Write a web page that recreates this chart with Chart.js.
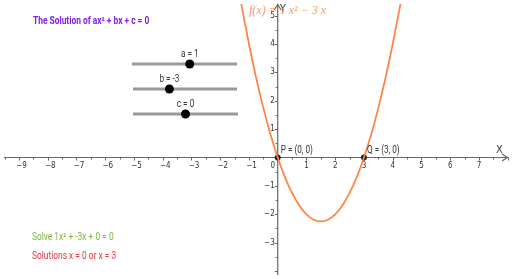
<!DOCTYPE html>
<html>
<head>
<meta charset="utf-8">
<script src="https://cdn.jsdelivr.net/npm/chart.js@4/dist/chart.umd.min.js"></script>
<style>
  html, body { margin: 0; padding: 0; background: #fff; overflow: hidden; }
  #wrap { position: relative; width: 512px; height: 279px; }
  canvas { display: block; }
</style>
</head>
<body>
<div id="wrap"><canvas id="c" width="512" height="279"></canvas></div>
<script>
// ---- data ----
const curveX = [-1.5, -1.25, -1, -0.75, -0.5, -0.25, 0, 0.25, 0.5, 0.75, 1, 1.25, 1.5, 1.75, 2, 2.25, 2.5, 2.75, 3, 3.25, 3.5, 3.75, 4, 4.25, 4.5];
const curveY = [6.75, 5.31, 4, 2.81, 1.75, 0.81, 0, -0.69, -1.25, -1.69, -2, -2.19, -2.25, -2.19, -2, -1.69, -1.25, -0.69, 0, 0.81, 1.75, 2.81, 4, 5.31, 6.75];
const pointNames = ["P", "Q"];
const pointX = [0, 3];
const pointY = [0, 0];
const xTickValues = [-9, -8, -7, -6, -5, -4, -3, -2, -1, 0, 1, 2, 3, 4, 5, 6, 7];
const yTickValues = [-3, -2, -1, 1, 2, 3, 4, 5];
const sliderNames = ["a", "b", "c"];
const sliderValues = [1, -3, 0];
const sliderMin = -10;
const sliderMax = 10;
const titleText = "The Solution of ax\u00B2 + bx + c = 0";
const solveText = "Solve 1x\u00B2 + -3x + 0 = 0";
const solutionText = "Solutions x = 0 or x = 3";
const functionLabel = "f(x) = 1 x\u00B2 \u2212 3 x";

const minus = v => (v < 0 ? "\u2212" + Math.abs(v) : String(v));

function narrowText(ctx, text, x, y, font, color, align, sx) {
  ctx.save();
  ctx.font = font;
  ctx.fillStyle = color;
  ctx.textBaseline = "middle";
  ctx.textAlign = align;
  ctx.translate(x, y);
  ctx.scale(sx, 1);
  ctx.fillText(text, 0, 0);
  ctx.restore();
}

const overlay = {
  id: "geoOverlay",
  beforeDatasetsDraw(chart) {
    const ctx = chart.ctx;
    const xs = chart.scales.x, ys = chart.scales.y;
    const x0 = xs.getPixelForValue(0), y0 = ys.getPixelForValue(0);
    const L = chart.chartArea.left, R = chart.chartArea.right, T = chart.chartArea.top, B = chart.chartArea.bottom;
    ctx.save();
    ctx.strokeStyle = "#666";
    ctx.lineWidth = 1.2;
    // x axis
    ctx.beginPath(); ctx.moveTo(L, y0); ctx.lineTo(R, y0); ctx.stroke();
    ctx.beginPath(); ctx.moveTo(R - 6, y0 - 3.5); ctx.lineTo(R - 0.5, y0); ctx.lineTo(R - 6, y0 + 3.5); ctx.stroke();
    // y axis
    ctx.beginPath(); ctx.moveTo(x0, B); ctx.lineTo(x0, T); ctx.stroke();
    ctx.beginPath(); ctx.moveTo(x0 - 3.5, T + 6); ctx.lineTo(x0, T + 0.5); ctx.lineTo(x0 + 3.5, T + 6); ctx.stroke();
    // ticks
    ctx.lineWidth = 1;
    for (let v = Math.ceil(xs.min * 2) / 2; v <= xs.max; v += 0.5) {
      if (v === 0) continue;
      const px = Math.round(xs.getPixelForValue(v)) + 0.5;
      const len = Number.isInteger(v) ? 3 : 2;
      ctx.beginPath(); ctx.moveTo(px, y0); ctx.lineTo(px, y0 + len); ctx.stroke();
    }
    for (let v = Math.ceil(ys.min * 2) / 2; v <= ys.max; v += 0.5) {
      if (v === 0) continue;
      const py = Math.round(ys.getPixelForValue(v)) + 0.5;
      const len = Number.isInteger(v) ? 3 : 2;
      ctx.beginPath(); ctx.moveTo(x0, py); ctx.lineTo(x0 - len, py); ctx.stroke();
    }
    ctx.restore();
    // tick labels
    const tf = "8px 'DejaVu Sans'";
    xTickValues.forEach(v => {
      let px = xs.getPixelForValue(v);
      if (v < 0) px += 2.5;
      if (v === 0) px -= 5;
      narrowText(ctx, minus(v), px, y0 + 8, tf, "#333", "center", 0.9);
    });
    yTickValues.forEach(v => {
      narrowText(ctx, minus(v), x0 - 3, ys.getPixelForValue(v), tf, "#333", "right", 0.9);
    });
    // axis names
    narrowText(ctx, "X", R - 12, y0 - 7, "11px 'DejaVu Sans'", "#333", "left", 0.9);
    narrowText(ctx, "Y", x0 + 2, T + 5, "11px 'DejaVu Sans'", "#333", "left", 0.9);
  },
  afterDraw(chart) {
    const ctx = chart.ctx;
    const xs = chart.scales.x, ys = chart.scales.y;
    // point labels
    pointNames.forEach((n, i) => {
      const px = xs.getPixelForValue(pointX[i]);
      const py = ys.getPixelForValue(pointY[i]);
      narrowText(ctx, n + " = (" + pointX[i] + ", " + pointY[i] + ")", px + 3, py - 7, "10px Roboto", "#333", "left", 0.82);
    });
    // sliders
    const trackL = 132, trackR = 237, trackTop = 64, trackGap = 25;
    sliderNames.forEach((n, i) => {
      const y = trackTop + i * trackGap;
      const l = trackL + (i > 0 ? 1 : 0);
      const r = trackR + (i === 2 ? 1 : 0);
      ctx.save();
      ctx.strokeStyle = "#999";
      ctx.lineWidth = 3;
      ctx.beginPath(); ctx.moveTo(l, y); ctx.lineTo(r, y); ctx.stroke();
      const hx = l + (sliderValues[i] - sliderMin) / (sliderMax - sliderMin) * (r - l);
      ctx.fillStyle = "#000";
      ctx.beginPath(); ctx.arc(hx, y, 4.5, 0, Math.PI * 2); ctx.fill();
      ctx.restore();
      narrowText(ctx, n + " = " + sliderValues[i], hx, y - 10, "10px Roboto", "#333", "center", 0.82);
    });
    // texts
    narrowText(ctx, titleText, 33, 21.5, "bold 10.5px Roboto", "#8020e6", "left", 0.8);
    narrowText(ctx, solveText, 32, 237.5, "10.5px Roboto", "#80b43c", "left", 0.8);
    narrowText(ctx, solutionText, 32, 256.5, "10.5px Roboto", "#e8323c", "left", 0.8);
    // function label
    narrowText(ctx, functionLabel, 249, 11, "italic 12px 'Liberation Serif'", "rgba(255,128,64,0.8)", "left", 1);
  }
};

new Chart(document.getElementById("c"), {
  type: "scatter",
  data: {
    datasets: [
      {
        label: "f(x)",
        data: curveX.map((x, i) => ({ x: x, y: curveY[i] })),
        showLine: true,
        borderColor: "#ff8040",
        borderWidth: 1.7,
        pointRadius: 0,
        cubicInterpolationMode: "monotone",
        fill: false
      },
      {
        label: "roots",
        data: pointX.map((x, i) => ({ x: x, y: pointY[i] })),
        showLine: false,
        pointRadius: 3,
        pointBackgroundColor: "#222",
        pointBorderColor: "#222",
        pointBorderWidth: 0
      }
    ]
  },
  options: {
    responsive: false,
    animation: false,
    devicePixelRatio: 1,
    layout: { padding: 0 },
    plugins: { legend: { display: false }, tooltip: { enabled: false } },
    scales: {
      x: { type: "linear", min: -9.52, max: 8.01, display: false },
      y: { type: "linear", min: -4.14, max: 5.41, display: false }
    }
  },
  plugins: [overlay]
});
</script>
</body>
</html>
